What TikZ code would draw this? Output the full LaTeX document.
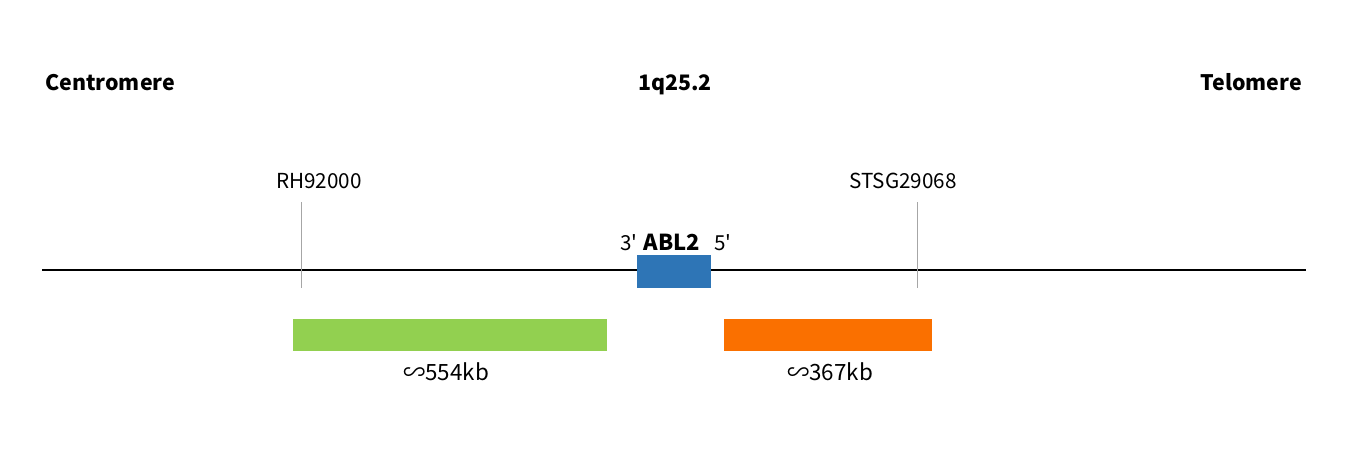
\documentclass[tikz,border=0pt]{standalone}
\usepackage{fontspec}
\setmainfont{Noto Sans CJK SC}
\newfontfamily\primefont{Noto Sans CJK SC}
\usepackage{tikz}

\definecolor{genblue}{RGB}{46,117,182}
\definecolor{delgreen}{RGB}{146,208,80}
\definecolor{duporange}{RGB}{250,112,0}

\tikzset{
  region/.style={font=\fontsize{16}{19}\selectfont\bfseries, inner sep=0pt},
  marker/.style={font=\fontsize{15.5}{18}\selectfont, inner sep=0pt},
  size/.style={font=\fontsize{16.8}{19}\selectfont, inner sep=0pt},
  prime/.style={font=\primefont\fontsize{15.5}{18}\selectfont, inner sep=0pt},
  bar/.style={draw=none, inner sep=0pt, minimum height=24pt}
}

\begin{document}
\begin{tikzpicture}[x=0.75pt,y=-0.75pt]
\useasboundingbox (0,0) rectangle (1350,450);

% titles
\node[region, anchor=base west] (cen) at (45,90) {Centromere};
\node[region, anchor=base] (band) at (675,90) {1q25.2};
\node[region, anchor=base east] (tel) at (1302,90) {Telomere};

% chromosome line
\coordinate (cl) at (42,270);
\coordinate (cr) at (1306,270);
\draw[line width=0.8pt] (cl) -- (cr);

% markers
\node[marker, anchor=base] (rh) at (319,188) {RH92000};
\node[marker, anchor=base] (sts) at (903,188) {STSG29068};
\coordinate (rhtop) at (301,202);
\coordinate (rhbot) at (301,288);
\coordinate (ststop) at (917,202);
\coordinate (stsbot) at (917,288);
\draw[gray!70, line width=0.6pt] (rhtop) -- (rhbot);
\draw[gray!70, line width=0.6pt] (ststop) -- (stsbot);

% gene
\node[bar, fill=genblue, minimum width=55.5pt, minimum height=24.75pt] (abl) at (674,271.5) {};
\node[region, anchor=base, font=\fontsize{16.5}{19}\selectfont\bfseries] (ablname) at (672,250) {ABL2};
\node[prime, anchor=base west] (p3) at (620,250) {3'};
\node[prime, anchor=base west] (p5) at (714,250) {5'};

% regions
\node[bar, fill=delgreen, minimum width=235.5pt] (left) at (450,335) {};
\node[bar, fill=duporange, minimum width=156pt] (right) at (828,335) {};
\node[size, anchor=base] (lsize) at (446,380) {∽554kb};
\node[size, anchor=base] (rsize) at (830,380) {∽367kb};

\end{tikzpicture}
\end{document}
